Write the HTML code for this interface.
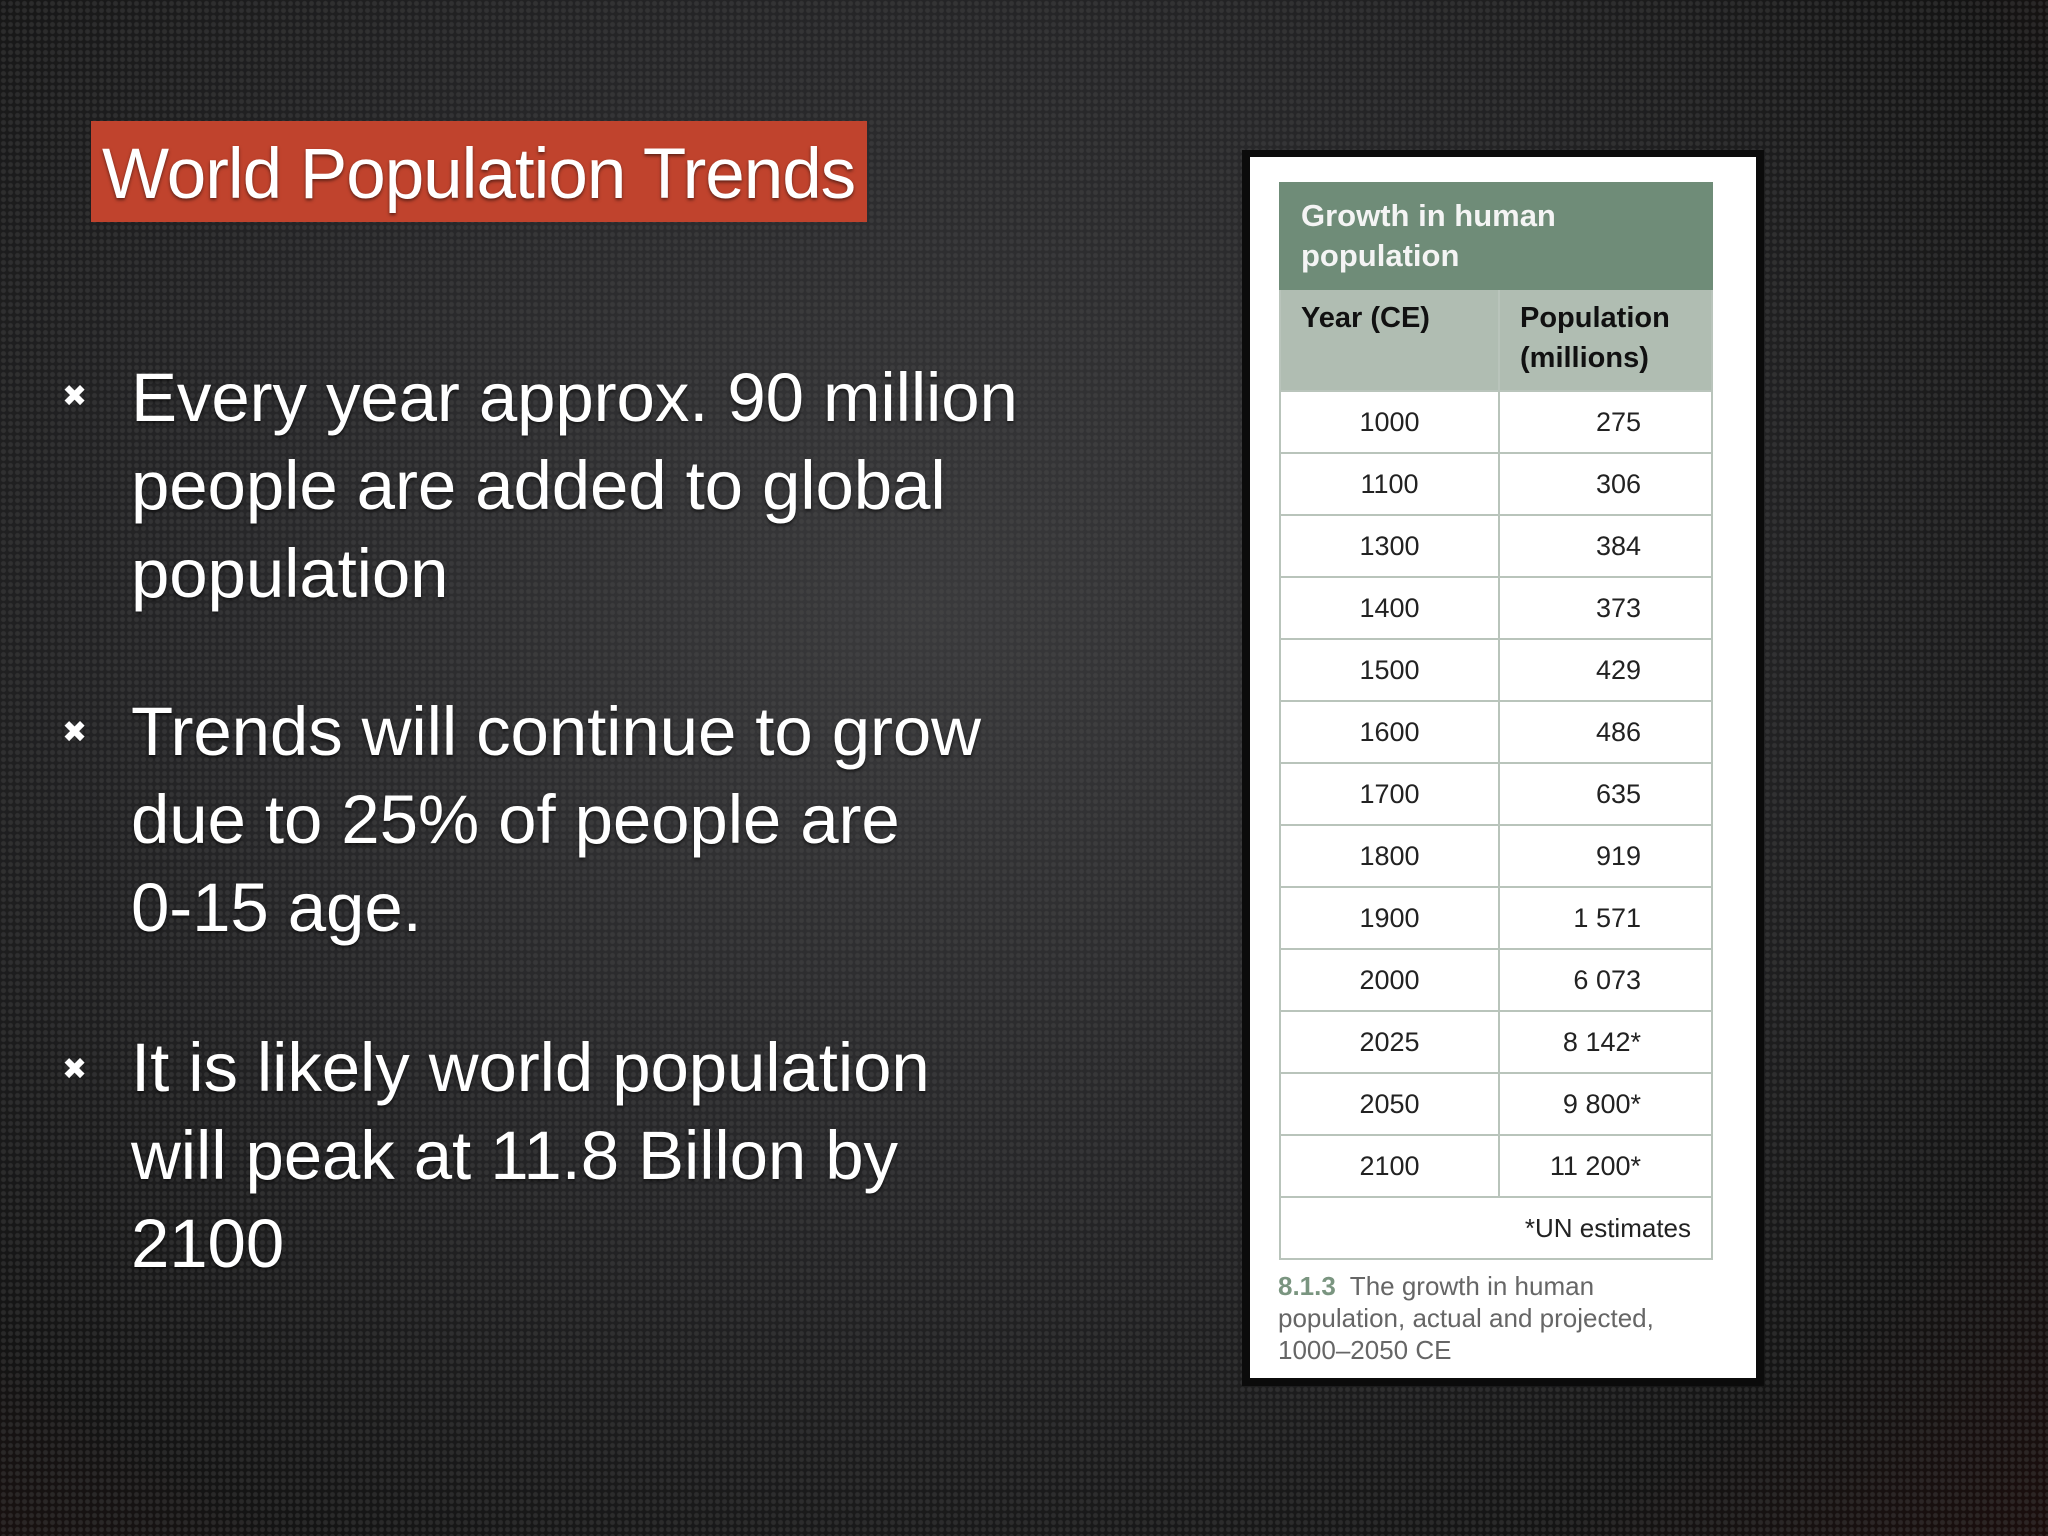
<!DOCTYPE html>
<html><head><meta charset="utf-8"><style>
body{margin:0;width:2048px;height:1536px;overflow:hidden;font-family:"Liberation Sans",sans-serif;}
#bg{position:absolute;left:0;top:0;width:2048px;height:1536px;
background:
radial-gradient(circle at 50% 50%, rgba(80,80,80,0.35) 0 2px, transparent 3px) 0 0/7px 7px,
radial-gradient(ellipse at 45% 40%, #3a3a3c 0%, #262628 45%, #141414 80%, #1a0d0c 100%);}
.title{position:absolute;left:91px;top:121px;width:776px;height:101px;background:#c0432d;}
.title span{position:absolute;left:11px;top:13px;font-size:71px;color:#fff;letter-spacing:-1px;white-space:nowrap;text-shadow:0 2px 3px rgba(0,0,0,.5);}
.bullet{position:absolute;left:131px;color:#fff;font-size:69px;line-height:88px;letter-spacing:-0.1px;text-shadow:0 2px 3px rgba(0,0,0,.6);}
.mark{position:absolute;left:62px;width:22px;height:22px;color:#fff;font-size:30px;line-height:22px;}
.card{position:absolute;left:1242px;top:150px;width:522px;height:1236px;background:#0b0b0b;}
.white{position:absolute;left:1250px;top:157px;width:506px;height:1221px;background:#fff;}
table{position:absolute;left:1279px;top:182px;width:434px;border-collapse:collapse;font-size:27px;}
td{border:2px solid #b9c4bb;text-align:center;height:60px;color:#222;padding:0;}
.g td{background:#6f8c78;color:#f4f4f4;font-weight:bold;font-size:31px;text-align:left;padding:10px 20px;height:84px;line-height:40px;border-color:#6f8c78;}
.h td{background:#b0bdb2;font-weight:bold;font-size:29px;text-align:left;padding:8px 20px;height:84px;vertical-align:top;line-height:40px;color:#111;}
.cap{position:absolute;left:1278px;top:1270px;font-size:26px;line-height:32px;color:#666;}
</style></head><body>
<div id="bg"></div>
<div class="title"><span>World Population Trends</span></div>
<div class="mark" style="top:386px">✖</div>
<div class="bullet" style="top:354px">Every year approx. 90 million<br>people are added to global<br>population</div>
<div class="mark" style="top:722px">✖</div>
<div class="bullet" style="top:688px">Trends will continue to grow<br>due to 25% of people are<br>0-15 age.</div>
<div class="mark" style="top:1059px">✖</div>
<div class="bullet" style="top:1024px">It is likely world population<br>will peak at 11.8 Billon by<br>2100</div>
<div class="card"></div>
<div class="white"></div>
<table id="tbl">
<tr class="g"><td colspan="2">Growth in human<br>population</td></tr>
<tr class="h"><td style="width:177px">Year (CE)</td><td>Population<br>(millions)</td></tr>
</table>
<div class="cap"><b style="color:#7a9580">8.1.3</b>&nbsp; The growth in human<br>population, actual and projected,<br>1000–2050 CE</div>
<script>
const years=["1000","1100","1300","1400","1500","1600","1700","1800","1900","2000","2025","2050","2100"];
const pops=["275","306","384","373","429","486","635","919","1 571","6 073","8 142*","9 800*","11 200*"];
const t=document.getElementById('tbl');
years.forEach((y,i)=>{const tr=document.createElement('tr');


const a=document.createElement('td');a.textContent=y;
const b=document.createElement('td');b.textContent=pops[i];b.style.textAlign='right';b.style.paddingRight='70px';
tr.appendChild(a);tr.appendChild(b);t.appendChild(tr);});
const tr=document.createElement('tr');


const f=document.createElement('td');f.colSpan=2;f.textContent='*UN estimates';f.style.textAlign='right';f.style.paddingRight='20px';f.style.fontSize='26px';
tr.appendChild(f);t.appendChild(tr);
</script>
</body></html>
